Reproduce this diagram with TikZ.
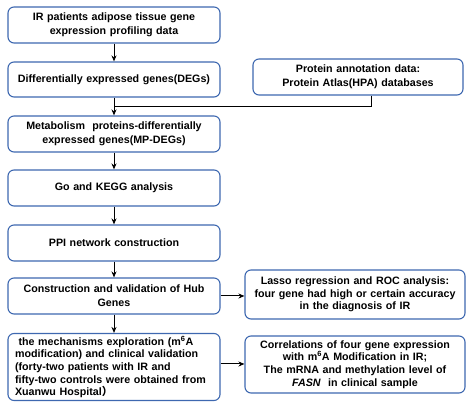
\documentclass[tikz,border=0pt]{standalone}
\usepackage{fontspec}
\setmainfont{Liberation Sans}
\newfontfamily\cjk{Noto Sans CJK SC}
\usetikzlibrary{arrows.meta}
\definecolor{boxblue}{RGB}{62,104,176}
\begin{document}
\begin{tikzpicture}[x=1pt,y=1pt,
  box/.style={draw=boxblue,line width=1.1pt,rounded corners=6pt,fill=white,align=center,
    font=\bfseries\fontsize{10.7}{14}\selectfont,inner sep=2pt},
  tight/.style={font=\bfseries\fontsize{10.7}{12.7}\selectfont},
  arr/.style={-{Stealth[length=6pt,width=5pt]},line width=1pt,black}]
\useasboundingbox (0,0) rectangle (474,409);
\node[box,minimum width=212,minimum height=36,text width=208] (b1) at (114,384) {IR patients adipose tissue gene\\expression profiling data};
\node[box,minimum width=212,minimum height=35,text width=208] (b2) at (114,329.5) {Differentially expressed genes(DEGs)};
\node[box,minimum width=212,minimum height=36,text width=208] (b3) at (114,275) {Metabolism\ \ proteins-differentially\\expressed genes(MP-DEGs)};
\node[box,minimum width=212,minimum height=36,text width=208] (b4) at (114,221) {Go and KEGG analysis};
\node[box,minimum width=212,minimum height=36,text width=208] (b5) at (114,166) {PPI network construction};
\node[box,minimum width=212,minimum height=36,text width=208] (b6) at (114,113) {Construction and validation of Hub\\Genes};
\node[box,tight,minimum width=212,minimum height=67,text width=198,align=left] (b7) at (114,42) {\ the mechanisms exploration (m\textsuperscript{6}A\\modification) and clinical validation\\(forty-two patients with IR and\\fifty-two controls were obtained from\\Xuanwu Hospital{\cjk ）}};
\node[box,minimum width=210,minimum height=36,text width=206] (p) at (358,332) {Protein annotation data:\\Protein Atlas(HPA) databases};
\node[box,tight,minimum width=220,minimum height=49,text width=216] (l) at (355,114.5) {Lasso regression and ROC analysis:\\four gene had high or certain accuracy\\in the diagnosis of IR};
\node[box,tight,minimum width=220,minimum height=57,text width=216] (c) at (355,44.5) {Correlations of four gene expression\\with m\textsuperscript{6}A Modification in IR;\\The mRNA and methylation level of\\\textit{FASN}\ \ in clinical sample};
\coordinate (j) at (114,302);
\draw[arr] (b1) -- (b2);
\draw[arr] (b2) -- (b3);
\draw[line width=1pt] ([xshift=13pt]p.south) |- (j);
\draw[arr] (b3) -- (b4);
\draw[arr] (b4) -- (b5);
\draw[arr] (b5) -- (b6);
\draw[arr] (b6) -- (b7);
\draw[arr] (b6.east) -- (b6.east -| l.west);
\draw[arr] (b7.east |- 0,45) -- (c.west |- 0,45);
\end{tikzpicture}
\end{document}
